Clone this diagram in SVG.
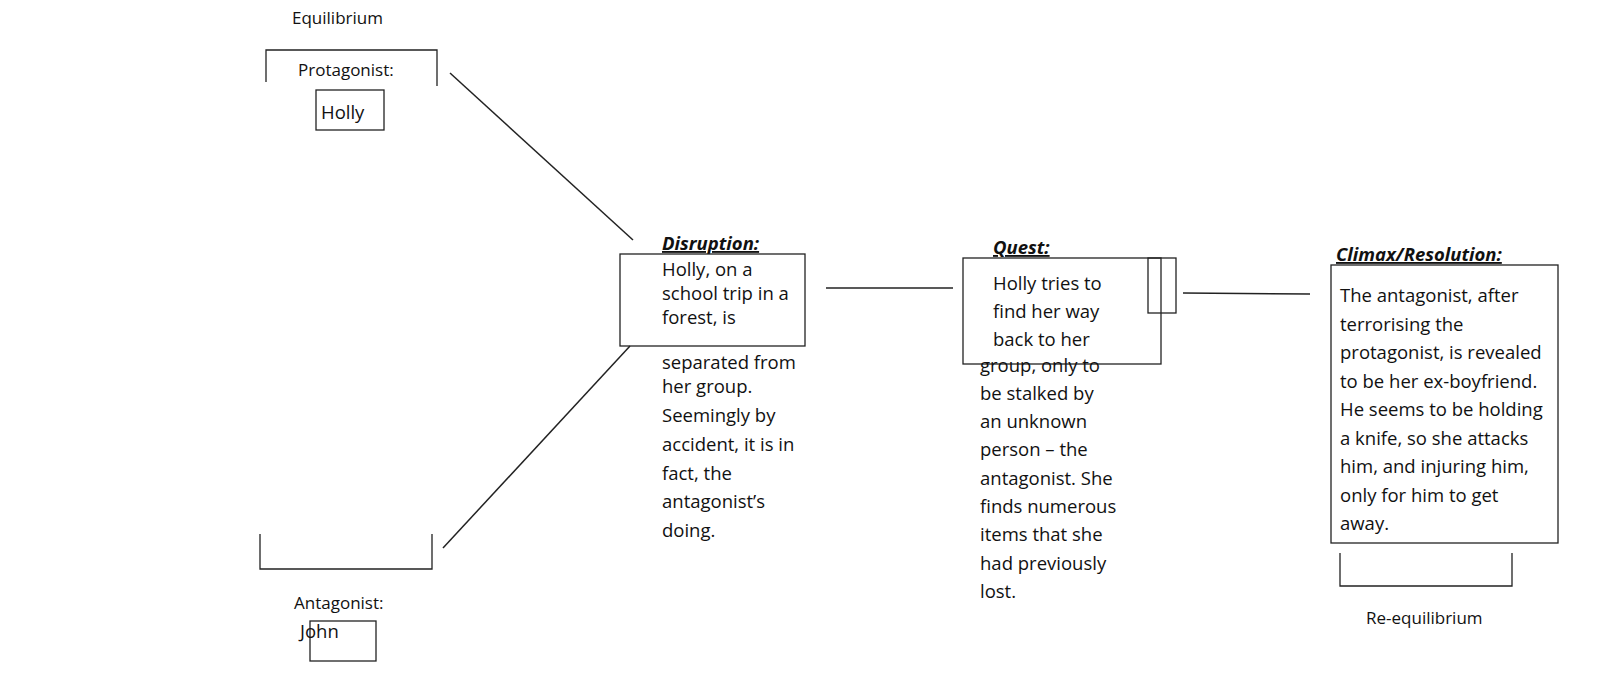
<svg xmlns="http://www.w3.org/2000/svg" width="1600" height="690" viewBox="0 0 1600 690">
<style>
text{font-family:"Open Sans","Liberation Sans",sans-serif;fill:#111;font-size:18.5px}
.s{font-size:17px}
.h{font-weight:bold;font-style:italic;text-decoration:underline}
.b{fill:none;stroke:#222;stroke-width:1.3}
.l{stroke:#222;stroke-width:1.5;fill:none}
</style>
<rect width="1600" height="690" fill="#fff"/>
<g id="equilibrium">
<text class="s" x="292" y="24">Equilibrium</text>
<path class="b" d="M266,82 V50 H437 V86"/>
<text class="s" x="298" y="76">Protagonist:</text>
<rect class="b" x="316" y="90" width="68" height="40"/>
<text x="321" y="119">Holly</text>
</g>
<g id="antagonist">
<path class="b" d="M260,534 V569 H432 V534"/>
<text class="s" x="294" y="609">Antagonist:</text>
<rect class="b" x="310" y="621" width="66" height="40"/>
<text x="300" y="638">John</text>
</g>
<g id="disruption">
<text class="h" x="662" y="250">Disruption:</text>
<rect class="b" x="620" y="254" width="185" height="92"/>
<text x="662" y="276">Holly, on a</text>
<text x="662" y="300">school trip in a</text>
<text x="662" y="324">forest, is</text>
<text x="662" y="369">separated from</text>
<text x="662" y="393">her group.</text>
<text x="662" y="422">Seemingly by</text>
<text x="662" y="451">accident, it is in</text>
<text x="662" y="480">fact, the</text>
<text x="662" y="508">antagonist’s</text>
<text x="662" y="537">doing.</text>
</g>
<g id="quest">
<text class="h" x="993" y="254">Quest:</text>
<rect class="b" x="963" y="258" width="198" height="106"/>
<rect class="b" x="1148" y="258" width="28" height="55"/>
<text x="993" y="290">Holly tries to</text>
<text x="993" y="318">find her way</text>
<text x="993" y="346">back to her</text>
<text x="980" y="372">group, only to</text>
<text x="980" y="400">be stalked by</text>
<text x="980" y="428">an unknown</text>
<text x="980" y="456">person – the</text>
<text x="980" y="485">antagonist. She</text>
<text x="980" y="513">finds numerous</text>
<text x="980" y="541">items that she</text>
<text x="980" y="570">had previously</text>
<text x="980" y="598">lost.</text>
</g>
<g id="climax">
<text class="h" x="1336" y="261">Climax/Resolution:</text>
<rect class="b" x="1331" y="265" width="227" height="278"/>
<text x="1340" y="302">The antagonist, after</text>
<text x="1340" y="331">terrorising the</text>
<text x="1340" y="359">protagonist, is revealed</text>
<text x="1340" y="388">to be her ex-boyfriend.</text>
<text x="1340" y="416">He seems to be holding</text>
<text x="1340" y="445">a knife, so she attacks</text>
<text x="1340" y="473">him, and injuring him,</text>
<text x="1340" y="502">only for him to get</text>
<text x="1340" y="530">away.</text>
<path class="b" d="M1340,553 V586 H1512 V553"/>
<text class="s" x="1366" y="624">Re-equilibrium</text>
</g>
<g id="connectors">
<line class="l" x1="450" y1="73" x2="633" y2="240"/>
<line class="l" x1="443" y1="548" x2="630" y2="346"/>
<line class="l" x1="826" y1="288" x2="953" y2="288"/>
<line class="l" x1="1183" y1="293" x2="1310" y2="294"/>
</g>
</svg>
